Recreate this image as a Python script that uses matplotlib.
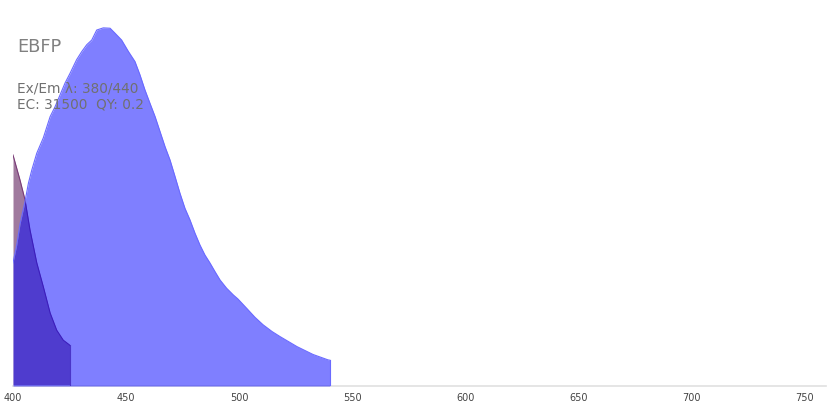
import matplotlib
matplotlib.use('Agg')
import matplotlib.pyplot as plt
import numpy as np

# spectra (wavelength nm, normalised intensity)
ex_wl = [400.0, 403.1, 405.3, 407.5, 410.5, 413.4, 416.4, 419.3, 422.2, 424.9, 425.0]
ex_val = [0.645, 0.575, 0.520, 0.436, 0.344, 0.277, 0.204, 0.156, 0.128, 0.115, 0.114]

em_wl = [400.0, 401.6, 403.1, 405.3, 406.8, 408.3, 410.5, 413.4, 416.4, 418.6,
         420.8, 423.0, 425.2, 428.1, 430.4, 432.6, 434.8, 437.0, 439.9, 442.9,
         445.1, 448.0, 451.0, 453.9, 456.1, 458.3, 460.5, 462.8, 465.0, 467.2,
         469.4, 471.6, 473.8, 476.0, 478.2, 480.4, 482.6, 484.8, 487.1, 489.3,
         491.5, 494.4, 497.4, 499.4, 503.4, 506.9, 510.5, 514.5, 518.0, 525.5,
         532.6, 539.2, 540.0]
em_val = [0.344, 0.392, 0.452, 0.515, 0.566, 0.603, 0.650, 0.693, 0.752, 0.780,
          0.813, 0.846, 0.873, 0.911, 0.934, 0.953, 0.966, 0.994, 1.000, 0.999,
          0.985, 0.966, 0.934, 0.906, 0.869, 0.827, 0.790, 0.752, 0.710, 0.668,
          0.631, 0.585, 0.538, 0.496, 0.464, 0.427, 0.394, 0.366, 0.343, 0.319,
          0.296, 0.273, 0.254, 0.243, 0.216, 0.192, 0.171, 0.152, 0.138, 0.110,
          0.088, 0.073, 0.072]

x_ticks = [400, 450, 500, 550, 600, 650, 700, 750]

protein = 'EBFP'
info_lines = ['Ex/Em \u03bb: 380/440', 'EC: 31500  QY: 0.2']

fig = plt.figure(figsize=(8.4, 4.2), dpi=100)
ax = fig.add_axes([13 / 840, 34 / 420, 813 / 840, 366 / 420])

ax.fill_between(ex_wl, ex_val, 0, color='#a07a9e', lw=0, zorder=1)
ax.plot(ex_wl, ex_val, color='#7a3c78', lw=0.8, zorder=2)
ax.fill_between(em_wl, em_val, 0, color='#0000ff', alpha=0.5, lw=0, zorder=3)
ax.plot(em_wl, em_val, color='#6a6aff', lw=0.8, zorder=4)
ax.plot([em_wl[-1], em_wl[-1]], [0, em_val[-1]], color='#6a6aff', lw=0.8, zorder=4)
ax.plot([ex_wl[-1], ex_wl[-1]], [0, ex_val[-1]], color='#4a35c8', lw=0.8, zorder=4)

ax.set_xlim(400, 759.3)
ax.set_ylim(0, 1.022)
ax.set_xticks(x_ticks)
ax.set_xticklabels([str(t) for t in x_ticks], fontsize=7, color='#444444')
ax.tick_params(axis='x', length=0, pad=5)
ax.set_yticks([])
for s in ['top', 'right', 'left']:
    ax.spines[s].set_visible(False)
ax.spines['bottom'].set_color('#e0e0e0')
ax.spines['bottom'].set_linewidth(1.2)

fig.text(17 / 840, 1 - 47 / 420, protein, fontsize=12.8, color='#808080', va='center')
fig.text(17 / 840, 1 - 88 / 420, info_lines[0], fontsize=9.8, color='#707070', va='center')
fig.text(17 / 840, 1 - 104 / 420, info_lines[1], fontsize=9.8, color='#707070', va='center')

fig.savefig('out.png', dpi=100)
